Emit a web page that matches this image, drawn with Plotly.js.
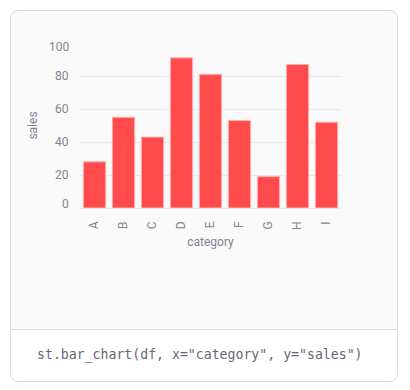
<!DOCTYPE html>
<html>
<head>
<meta charset="utf-8">
<script src="https://cdn.plot.ly/plotly-3.0.1.min.js"></script>
<style>
  html, body { margin: 0; padding: 0; background: #ffffff; width: 410px; height: 390px; overflow: hidden; }
  #card {
    position: absolute; left: 10px; top: 10px; width: 386px; height: 370px;
    border: 1px solid #d9dbe3; border-radius: 8px; overflow: hidden; background: #ffffff;
  }
  #top { position: absolute; left: 0; top: 0; width: 386px; height: 318px; background: #fafafa; border-bottom: 1px solid #d9dbe3; }
  #code {
    position: absolute; left: 37px; top: 347px; font-family: "DejaVu Sans Mono", monospace;
    font-size: 13.2px; color: #646875; white-space: pre;
  }
  #chart { position: absolute; left: 0; top: 0; width: 410px; height: 330px; }
</style>
</head>
<body>
<div id="card"><div id="top"></div></div>
<div id="code">st.bar_chart(df, x="category", y="sales")</div>
<div id="chart"></div>
<script>
const categories = ["A", "B", "C", "D", "E", "F", "G", "H", "I"];
const sales = [28, 55, 43, 91, 81, 53, 19, 87, 52];
const yTicks = [0, 20, 40, 60, 80, 100];

const fontFamily = "Roboto, 'Liberation Sans', sans-serif";
const gray = "#808495";

const trace = {
  type: "bar",
  x: categories,
  y: sales,
  marker: { color: "#ff4b4b", line: { color: "#ffb3b3", width: 1 } },
  hoverinfo: "none"
};

const annotations = yTicks.map(v => ({
  x: 0, xref: "paper", y: v, yref: "y",
  text: String(v), showarrow: false,
  xanchor: "right", yanchor: "middle",
  xshift: -9,
  yshift: v === yTicks[0] ? 4 : (v === yTicks[yTicks.length - 1] ? -4 : 0),
  font: { family: fontFamily, size: 12, color: gray }
}));

const layout = {
  width: 410, height: 330,
  margin: { l: 80, r: 69, t: 43, b: 122 },
  paper_bgcolor: "rgba(0,0,0,0)",
  plot_bgcolor: "rgba(0,0,0,0)",
  bargap: 0.23,
  showlegend: false,
  font: { family: fontFamily, size: 12, color: gray },
  xaxis: {
    type: "category",
    tickangle: -90,
    showgrid: false,
    zeroline: false,
    showline: false,
    ticks: "",
    ticklabelstandoff: 10,
    tickfont: { family: fontFamily, size: 12, color: gray },
    title: { text: "category", standoff: 8, font: { family: fontFamily, size: 12, color: gray } }
  },
  yaxis: {
    range: [0, 100],
    tickvals: yTicks,
    showticklabels: false,
    showgrid: true,
    gridcolor: "#e6e9ef",
    gridwidth: 1,
    zeroline: true,
    zerolinecolor: "#e6e9ef",
    zerolinewidth: 1,
    showline: false,
    ticks: "",
    title: { text: "sales", standoff: 38, font: { family: fontFamily, size: 12, color: gray } }
  },
  annotations: annotations
};

Plotly.newPlot("chart", [trace], layout, { staticPlot: true, displayModeBar: false });
</script>
</body>
</html>
